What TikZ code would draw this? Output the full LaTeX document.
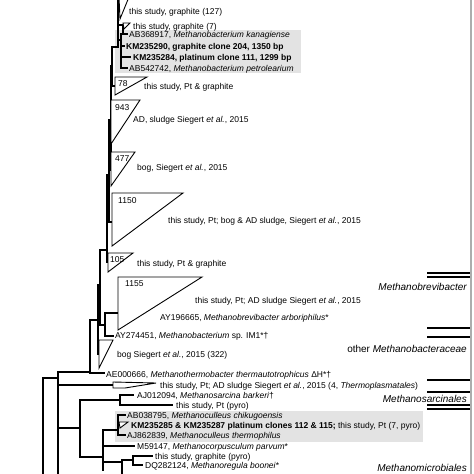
\documentclass[tikz,border=0pt]{standalone}
\usepackage{fontspec}
\setmainfont{Liberation Sans}
\begin{document}
\begin{tikzpicture}[x=1pt,y=-1pt,
  tl/.style={line width=1.1pt, line cap=rect},
  tri/.style={line width=0.9pt, fill=white, line join=miter},
  lbl/.style={anchor=west, inner sep=0pt, font=\fontsize{8.5}{9}\selectfont, text height=6pt, text depth=0pt},
  num/.style={anchor=west, inner sep=0pt, font=\fontsize{8.5}{9}\selectfont, text height=6pt, text depth=0pt},
  grp/.style={anchor=east, inner sep=0pt, font=\fontsize{10}{11}\selectfont, text height=7pt, text depth=0pt},
  bar/.style={line width=1.1pt},
  hibox/.style={fill=black!11, draw=none},
]
\useasboundingbox (0,0) rectangle (474,474);
% highlight boxes
\fill[hibox] (115,30) rectangle (301,73);
\fill[hibox] (115,411) rectangle (423,442);
% right bracket line
\draw[line width=2pt, black!32] (471,-2) -- (471,476);
% bars
\foreach \yy in {273,277,328,337,380,392,405,409}
  \draw[bar] (427,\yy) -- (470,\yy);
% group labels
\node[grp] (gMb) at (467,287) {\itshape Methanobrevibacter};
\node[grp] (gOther) at (467,349) {other \textit{Methanobacteraceae}};
\node[grp] (gMs) at (467,399) {\itshape Methanosarcinales};
\node[grp] (gMm) at (467,468) {\itshape Methanomicrobiales};

% ---------- top subtree ----------
\draw[tri] (119,-3) -- (129,-3) -- (120,19) -- cycle;
\draw[tl] (118,-3) -- (118,47);
\draw[tl] (118,25) -- (123,25);
\draw[tri] (123,23) -- (130,23) -- (124,29) -- cycle;
\draw[tl] (123,27) -- (123,34) -- (127,34);
\draw[tl] (118,40) -- (121,40);
\draw[tl] (121,34) -- (121,68);
\draw[tl] (121,46) -- (124,46);
\draw[tl] (121,57) -- (130,57);
\draw[tl] (121,68) -- (127,68);
\node[lbl] (t127) at (129,11) {this study, graphite (127)};
\node[lbl] (t7) at (133,26) {this study, graphite (7)};
\node[lbl] (ab368) at (129,34) {AB368917, \textit{Methanobacterium kanagiense}};
\node[lbl] (km290) at (126,46) {\bfseries KM235290, graphite clone 204, 1350 bp};
\node[lbl] (km284) at (133,57) {\bfseries KM235284, platinum clone 111, 1299 bp};
\node[lbl] (ab542) at (129,68) {AB542742, \textit{Methanobacterium petrolearium}};

% ---------- main spine ----------
\draw[tl] (112,47) -- (118,47);
\draw[tl] (112,47) -- (112,86) -- (115,86);
\draw[tl] (111,66) -- (112,66);
\draw[tl] (111,66) -- (111,170);
\draw[tl] (109,120) -- (111,120);
\draw[tl] (109,120) -- (109,222) -- (112,222);
\draw[tl] (107,175) -- (109,175);
\draw[tl] (107,175) -- (107,262) -- (108,262);
\draw[tl] (100,250) -- (107,250);

% triangles
\draw[tri] (115,77) -- (147,77) -- (115,95) -- cycle;
\node[num] (n78) at (118,83) {78};
\node[lbl] (l78) at (144,86) {this study, Pt \& graphite};

\draw[tri] (111,100) -- (140,100) -- (111,144) -- cycle;
\node[num] (n943) at (115,107) {943};
\node[lbl] (l943) at (133,119) {AD, sludge Siegert \textit{et al.}, 2015};

\draw[tri] (111,152) -- (135,152) -- (111,186) -- cycle;
\node[num] (n477) at (115,158) {477};
\node[lbl] (l477) at (137,167) {bog, Siegert \textit{et al.}, 2015};

\draw[tri] (112,193) -- (183,193) -- (112,246) -- cycle;
\node[num] (n1150) at (118,200) {1150};
\node[lbl] (l1150) at (168,220) {this study, Pt; bog \& AD sludge, Siegert \textit{et al.}, 2015};

\draw[tri] (108,253) -- (133,253) -- (108,272) -- cycle;
\node[num] (n105) at (110,259) {105};
\node[lbl] (l105) at (137,263) {this study, Pt \& graphite};

% ---------- Methanobrevibacter etc ----------
\draw[tl] (100,250) -- (100,325) -- (105,325);
\draw[tl] (105,313) -- (105,336) -- (113,336);
\draw[tl] (105,313) -- (118,313);
\draw[tri] (118,277) -- (202,277) -- (118,330) -- cycle;
\node[num] (n1155) at (125,283) {1155};
\node[lbl] (l1155) at (195,300) {this study, Pt; AD sludge Siegert \textit{et al.}, 2015};
\node[lbl] (ay196) at (160,317) {AY196665, \textit{Methanobrevibacter arboriphilus}*};
\node[lbl] (ay274) at (115,335) {AY274451, \textit{Methanobacterium} sp. IM1*†};

\draw[tl] (98,285) -- (100,285);
\draw[tl] (98,285) -- (98,354) -- (99,354);
\draw[tri] (99,340) -- (113,340) -- (99,368) -- cycle;
\node[lbl] (lbog) at (117,354) {bog Siegert \textit{et al.}, 2015 (322)};

\draw[tl] (90,320) -- (98,320);
\draw[tl] (90,320) -- (90,373) -- (104,373);
\node[lbl] (ae000) at (106,374) {AE000666, \textit{Methanothermobacter thermautotrophicus} ΔH*†};

% ---------- lower part ----------
\draw[tl] (58,372) -- (90,372);
\draw[tl] (58,372) -- (58,478);
\draw[tl] (58,385) -- (113,385);
\draw[tri] (113,382) -- (156,383) -- (125,388) -- (113,388) -- cycle;
\node[lbl] (lthermo) at (160,385) {this study, Pt; AD sludge Siegert \textit{et al.}, 2015 (4, \textit{Thermoplasmatales})};
\draw[tl] (43,378) -- (58,378);
\draw[tl] (43,378) -- (43,478);

\draw[tl] (58,428) -- (80,428);
\draw[tl] (80,400) -- (80,457);
\draw[tl] (80,400) -- (120,400);
\draw[tl] (120,395) -- (120,405);
\draw[tl] (120,395) -- (133,395);
\draw[tl] (120,405) -- (172,405);
\node[lbl] (aj012) at (137,395) {AJ012094, \textit{Methanosarcina barkeri}†};
\node[lbl] (lpyro) at (176,405) {this study, Pt (pyro)};

\draw[tl] (80,457) -- (103,457);
\draw[tl] (103,430) -- (103,470);
\draw[tl] (103,430) -- (118,430);
\draw[tl] (118,415) -- (118,435);
\draw[tl] (118,415) -- (125,415);
\draw[tl] (118,435) -- (125,435);
\draw[tri] (119,422) -- (128,422) -- (120,428) -- cycle;
\node[lbl] (ab038) at (127,415) {AB038795, \textit{Methanoculleus chikugoensis}};
\node[lbl] (km285) at (131,425) {{\bfseries KM235285 \& KM235287 platinum clones 112 \& 115;} this study, Pt (7, pyro)};
\node[lbl] (aj862) at (127,435) {AJ862839, \textit{Methanoculleus thermophilus}};

\draw[tl] (103,446) -- (134,446);
\node[lbl] (m591) at (137,446) {M59147, \textit{Methanocorpusculum parvum}*};
\draw[tl] (103,462) -- (122,462);
\draw[tl] (122,460) -- (122,478);
\draw[tl] (122,460) -- (133,460);
\draw[tl] (133,456) -- (133,465);
\draw[tl] (133,456) -- (152,456);
\draw[tl] (133,465) -- (142,465);
\node[lbl] (lgpyro) at (155,456) {this study, graphite (pyro)};
\node[lbl] (dq282) at (145,465) {DQ282124, \textit{Methanoregula boonei}*};
\end{tikzpicture}
\end{document}
